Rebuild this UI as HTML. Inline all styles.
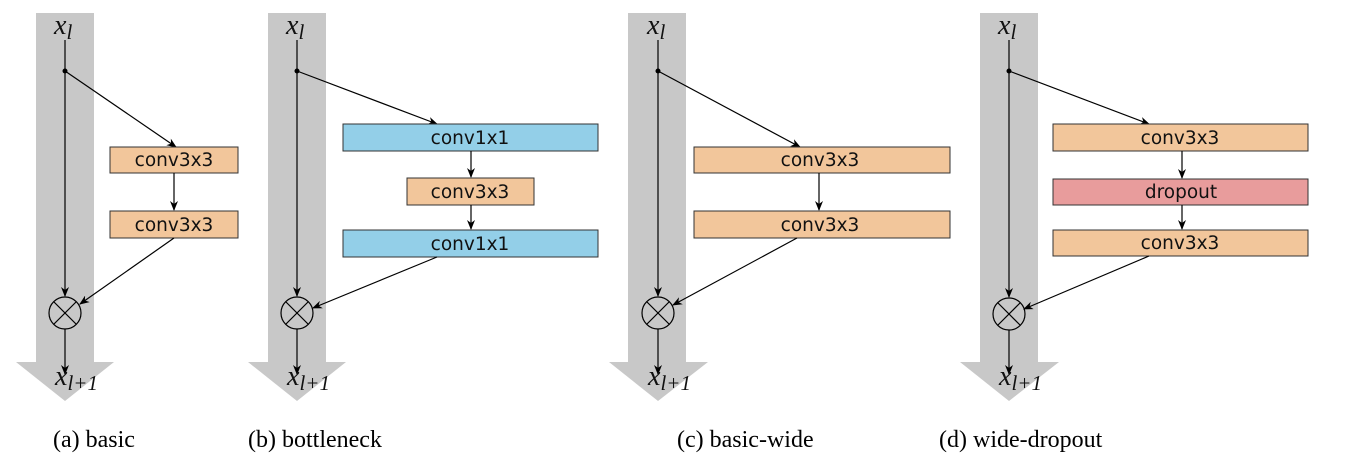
<!DOCTYPE html>
<html><head><meta charset="utf-8"><style>
html,body{margin:0;padding:0;background:#fff;}
svg{display:block}
.bx{stroke:#333;stroke-width:1}
.lb{font-family:"DejaVu Sans",sans-serif;font-size:18.5px;fill:#111;text-anchor:middle}
.cap{font-family:"Liberation Serif",serif;font-size:24px;fill:#000}
.x{font-family:"Liberation Serif",serif;font-style:italic;fill:#111}
.ln{stroke:#000;stroke-width:1.2;fill:none}
</style></head><body>
<svg width="1345" height="462" viewBox="0 0 1345 462" xmlns="http://www.w3.org/2000/svg">
<defs><marker id="a" markerWidth="10" markerHeight="8" refX="9" refY="4" orient="auto" markerUnits="userSpaceOnUse"><path d="M0,0 L10,4 L0,8 L3,4 Z" fill="#000"/></marker></defs>

<g>
<rect x="36" y="13" width="58" height="349" fill="#c8c8c8"/>
<polygon points="16,362 114,362 65,401" fill="#c8c8c8"/>
<text class="x" x="54" y="34" font-size="28">x<tspan font-size="21" dy="5">l</tspan></text>
<line class="ln" x1="65" y1="40" x2="65" y2="296" marker-end="url(#a)"/>
<circle cx="65" cy="71" r="2.5"/>
<line class="ln" x1="65" y1="71" x2="176" y2="147" marker-end="url(#a)"/>
<rect class="bx" x="110" y="147" width="128" height="26" fill="#f2c69b"/>
<text class="lb" x="174" y="166">conv3x3</text>
<line class="ln" x1="174" y1="173" x2="174" y2="210" marker-end="url(#a)"/>
<rect class="bx" x="110" y="211" width="128" height="27" fill="#f2c69b"/>
<text class="lb" x="174" y="231">conv3x3</text>
<line class="ln" x1="174" y1="238" x2="80" y2="304" marker-end="url(#a)"/>
<circle cx="65" cy="313" r="16" fill="none" stroke="#000" stroke-width="1.2"/>
<line class="ln" x1="54" y1="302" x2="76" y2="324"/><line class="ln" x1="76" y1="302" x2="54" y2="324"/>
<line class="ln" x1="65" y1="329" x2="65" y2="374" marker-end="url(#a)"/>
<text class="x" x="55" y="385" font-size="28">x<tspan font-size="21" dy="5">l+1</tspan></text>
</g>

<g>
<rect x="268" y="13" width="58" height="349" fill="#c8c8c8"/>
<polygon points="248,362 346,362 297,401" fill="#c8c8c8"/>
<text class="x" x="286" y="34" font-size="28">x<tspan font-size="21" dy="5">l</tspan></text>
<line class="ln" x1="297" y1="40" x2="297" y2="296" marker-end="url(#a)"/>
<circle cx="297" cy="71" r="2.5"/>
<line class="ln" x1="297" y1="71" x2="437" y2="124" marker-end="url(#a)"/>
<rect class="bx" x="343" y="124" width="255" height="27" fill="#93cfe8"/>
<text class="lb" x="470" y="144">conv1x1</text>
<line class="ln" x1="471" y1="151" x2="471" y2="177" marker-end="url(#a)"/>
<rect class="bx" x="407" y="178" width="127" height="27" fill="#f2c69b"/>
<text class="lb" x="470" y="198">conv3x3</text>
<line class="ln" x1="471" y1="205" x2="471" y2="229" marker-end="url(#a)"/>
<rect class="bx" x="343" y="230" width="255" height="27" fill="#93cfe8"/>
<text class="lb" x="470" y="250">conv1x1</text>
<line class="ln" x1="437" y1="257" x2="313" y2="308" marker-end="url(#a)"/>
<circle cx="297" cy="313" r="16" fill="none" stroke="#000" stroke-width="1.2"/>
<line class="ln" x1="286" y1="302" x2="308" y2="324"/><line class="ln" x1="308" y1="302" x2="286" y2="324"/>
<line class="ln" x1="297" y1="329" x2="297" y2="374" marker-end="url(#a)"/>
<text class="x" x="287" y="385" font-size="28">x<tspan font-size="21" dy="5">l+1</tspan></text>
</g>

<g>
<rect x="628" y="13" width="58" height="349" fill="#c8c8c8"/>
<polygon points="609,362 708,362 658,401" fill="#c8c8c8"/>
<text class="x" x="647" y="34" font-size="28">x<tspan font-size="21" dy="5">l</tspan></text>
<line class="ln" x1="658" y1="40" x2="658" y2="296" marker-end="url(#a)"/>
<circle cx="658" cy="71" r="2.5"/>
<line class="ln" x1="658" y1="71" x2="800" y2="147" marker-end="url(#a)"/>
<rect class="bx" x="694" y="147" width="256" height="26" fill="#f2c69b"/>
<text class="lb" x="820" y="166">conv3x3</text>
<line class="ln" x1="819" y1="173" x2="819" y2="210" marker-end="url(#a)"/>
<rect class="bx" x="694" y="211" width="256" height="27" fill="#f2c69b"/>
<text class="lb" x="820" y="231">conv3x3</text>
<line class="ln" x1="797" y1="238" x2="673" y2="305" marker-end="url(#a)"/>
<circle cx="658" cy="313" r="16" fill="none" stroke="#000" stroke-width="1.2"/>
<line class="ln" x1="647" y1="302" x2="669" y2="324"/><line class="ln" x1="669" y1="302" x2="647" y2="324"/>
<line class="ln" x1="658" y1="329" x2="658" y2="374" marker-end="url(#a)"/>
<text class="x" x="648" y="385" font-size="28">x<tspan font-size="21" dy="5">l+1</tspan></text>
</g>

<g>
<rect x="980" y="13" width="58" height="349" fill="#c8c8c8"/>
<polygon points="960,362 1059,362 1009,401" fill="#c8c8c8"/>
<text class="x" x="998" y="34" font-size="28">x<tspan font-size="21" dy="5">l</tspan></text>
<line class="ln" x1="1009" y1="40" x2="1009" y2="297" marker-end="url(#a)"/>
<circle cx="1009" cy="71" r="2.5"/>
<line class="ln" x1="1009" y1="71" x2="1149" y2="124" marker-end="url(#a)"/>
<rect class="bx" x="1053" y="124" width="255" height="27" fill="#f2c69b"/>
<text class="lb" x="1180" y="144">conv3x3</text>
<line class="ln" x1="1182" y1="151" x2="1182" y2="178" marker-end="url(#a)"/>
<rect class="bx" x="1053" y="179" width="255" height="26" fill="#e89c9c"/>
<text class="lb" x="1181" y="198">dropout</text>
<line class="ln" x1="1182" y1="205" x2="1182" y2="229" marker-end="url(#a)"/>
<rect class="bx" x="1053" y="230" width="255" height="26" fill="#f2c69b"/>
<text class="lb" x="1180" y="249">conv3x3</text>
<line class="ln" x1="1149" y1="256" x2="1024" y2="309" marker-end="url(#a)"/>
<circle cx="1009" cy="314" r="16" fill="none" stroke="#000" stroke-width="1.2"/>
<line class="ln" x1="998" y1="303" x2="1020" y2="325"/><line class="ln" x1="1020" y1="303" x2="998" y2="325"/>
<line class="ln" x1="1009" y1="330" x2="1009" y2="374" marker-end="url(#a)"/>
<text class="x" x="999" y="385" font-size="28">x<tspan font-size="21" dy="5">l+1</tspan></text>
</g>

<text class="cap" x="53" y="447">(a)  basic</text>
<text class="cap" x="248" y="447">(b)  bottleneck</text>
<text class="cap" x="677" y="447">(c)  basic-wide</text>
<text class="cap" x="939" y="447">(d)  wide-dropout</text>
</svg>
</body></html>
